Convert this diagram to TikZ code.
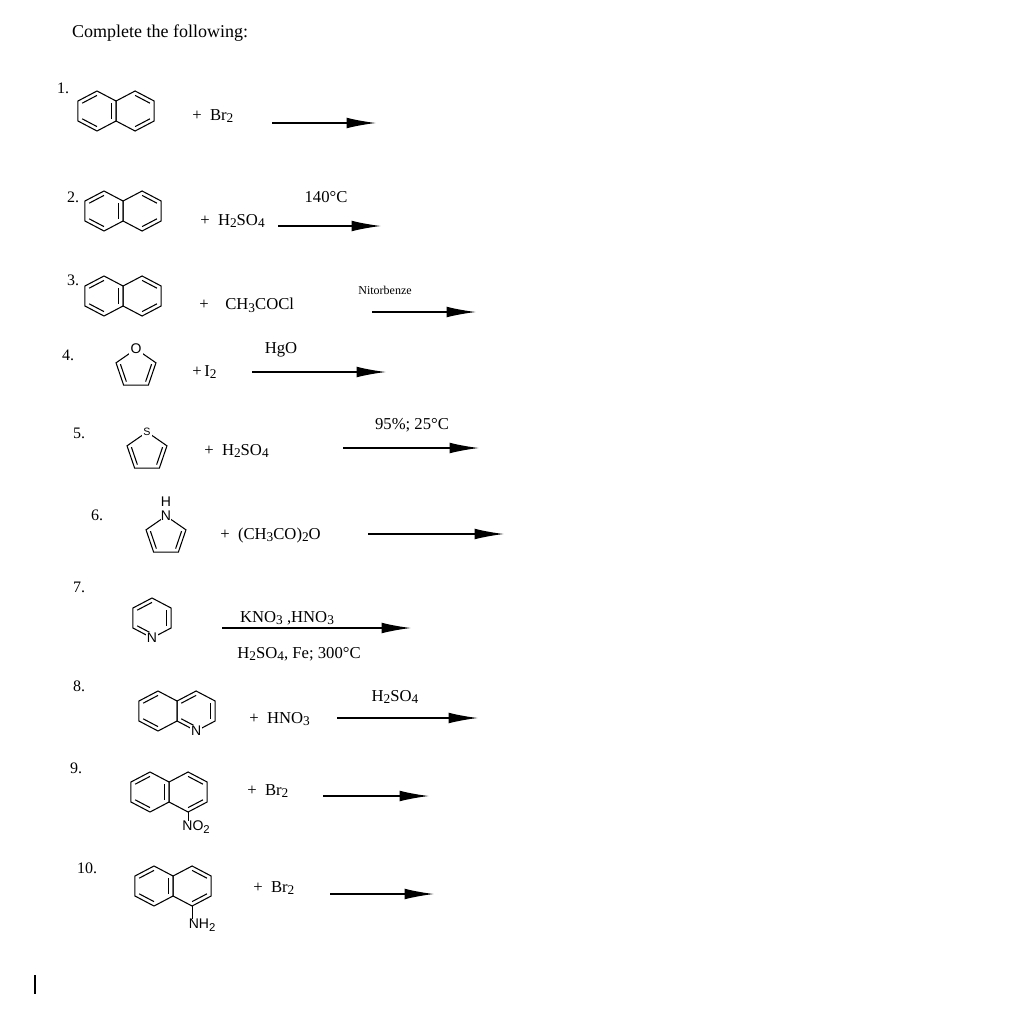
\documentclass[tikz,border=0pt]{standalone}
\usepackage{fontspec}
\setmainfont{Liberation Serif}
\newfontfamily\atomfont{Liberation Sans}
\usetikzlibrary{calc,arrows.meta}
\tikzset{
  rx/.style={-{Latex[length=22pt,width=8pt]},line width=1pt},
  bond/.style={line width=0.8pt},
  txt/.style={inner sep=0pt,font=\fontsize{12.5}{14}\selectfont},
  small/.style={inner sep=0pt,font=\fontsize{9}{10}\selectfont},
  atom/.style={fill=white,inner sep=0.8pt,font=\atomfont\fontsize{10.5}{11}\selectfont},
  num/.style={inner sep=0pt,font=\fontsize{12}{14}\selectfont}
}
\newcommand\sbs[1]{\raisebox{-0.35ex}{\fontsize{10}{10}\selectfont #1}}
\newcommand\asb[1]{\raisebox{-0.35ex}{\fontsize{8.5}{9}\selectfont #1}}
\newcommand\hexat[3]{%
  \foreach \a in {30,90,150,210,270,330} {\coordinate (#1\a) at ($(#2,#3)+({22*cos(\a)},{20*sin(\a)})$);}
  \coordinate (#1c) at (#2,#3);
  \draw[bond] (#130)--(#190)--(#1150)--(#1210)--(#1270)--(#1330)--cycle;}
\newcommand\pentat[3]{%
  \foreach \a in {270,342,54,126,198} {\coordinate (#1\a) at ($(#2,#3)+({21*cos(\a)},{20*sin(\a)})$);}
  \coordinate (#1c) at (#2,#3);
  \draw[bond] (#1270)--(#1342)--(#154)--(#1126)--(#1198)--cycle;}
\newcommand\db[3]{\draw[bond] ($(#1)!0.22!(#3)$) -- ($(#2)!0.22!(#3)$);}
\newcommand\naph[3]{%
  \hexat{#1L}{#2}{#3}\hexat{#1R}{#2+38.1}{#3}%
  \db{#1L270}{#1L210}{#1Lc}\db{#1L150}{#1L90}{#1Lc}\db{#1L330}{#1L30}{#1Lc}%
  \db{#1R270}{#1R330}{#1Rc}\db{#1R30}{#1R90}{#1Rc}}
\begin{document}
\begin{tikzpicture}[x=0.75pt,y=-0.75pt]
\useasboundingbox (0,0) rectangle (1011,1024);
\node[inner sep=0pt,font=\fontsize{13.5}{15}\selectfont] (title) at (160,33) {Complete the following:};
% 1
\node[num] (n1) at (63,88) {1.};
\naph{a}{97}{111}
\node[txt,anchor=west] (p1) at (192,116) {+\enspace Br\sbs{2}};
\coordinate (a1s) at (272,123); \coordinate (a1e) at (376,123);
\draw[rx] (a1s) -- (a1e);
% 2
\node[num] (n2) at (73,197) {2.};
\naph{b}{104}{211}
\node[txt,anchor=west] (p2) at (200,221) {+\enspace H\sbs{2}SO\sbs{4}};
\node[txt] (c2) at (326,197) {140\textdegree C};
\coordinate (a2s) at (278,226); \coordinate (a2e) at (381,226);
\draw[rx] (a2s) -- (a2e);
% 3
\node[num] (n3) at (73,280) {3.};
\naph{c}{104}{296}
\node[txt,anchor=west] (p3) at (199,305) {+\quad CH\sbs{3}COCl};
\node[small] (c3) at (385,290) {Nitorbenze};
\coordinate (a3s) at (372,312); \coordinate (a3e) at (476,312);
\draw[rx] (a3s) -- (a3e);
% 4 furan
\node[num] (n4) at (68,355) {4.};
\pentat{f}{136}{369}
\db{f198}{f126}{fc}\db{f342}{f54}{fc}
\node[atom] (fO) at (f270) {O};
\node[txt,anchor=west] (p4) at (192,372) {+\,I\sbs{2}};
\node[txt] (c4) at (281,350) {HgO};
\coordinate (a4s) at (252,372); \coordinate (a4e) at (386,372);
\draw[rx] (a4s) -- (a4e);
% 5 thiophene
\node[num] (n5) at (79,433) {5.};
\pentat{t}{147}{452}
\db{t198}{t126}{tc}\db{t342}{t54}{tc}
\node[atom,font=\atomfont\fontsize{8}{9}\selectfont] (tS) at (t270) {S};
\node[txt,anchor=west] (p5) at (204,451) {+\enspace H\sbs{2}SO\sbs{4}};
\node[txt] (c5) at (412,425) {95\%; 25\textdegree C};
\coordinate (a5s) at (343,448); \coordinate (a5e) at (479,448);
\draw[rx] (a5s) -- (a5e);
% 6 pyrrole
\node[num] (n6) at (97,515) {6.};
\pentat{y}{166}{536}
\db{y198}{y126}{yc}\db{y342}{y54}{yc}
\node[atom,inner sep=0pt] (yN) at (y270) {N};
\node[atom,inner sep=0pt,fill=none] (yH) at ($(y270)+(0,-14)$) {H};
\node[txt,anchor=west] (p6) at (220,535) {+\enspace (CH\sbs{3}CO)\sbs{2}O};
\coordinate (a6s) at (368,534); \coordinate (a6e) at (504,534);
\draw[rx] (a6s) -- (a6e);
% 7 pyridine
\node[num] (n7) at (79,587) {7.};
\hexat{p}{152}{618}
\db{p270}{p210}{pc}\db{p330}{p30}{pc}\db{p150}{p90}{pc}
\node[atom] (pN) at (p90) {N};
\node[txt] (c7a) at (287,618) {KNO\sbs{3} ,HNO\sbs{3}};
\node[txt] (c7b) at (299,654) {H\sbs{2}SO\sbs{4}, Fe; 300\textdegree C};
\coordinate (a7s) at (222,628); \coordinate (a7e) at (411,628);
\draw[rx] (a7s) -- (a7e);
% 8 quinoline
\node[num] (n8) at (79,686) {8.};
\hexat{qL}{158}{711}\hexat{qR}{196.1}{711}
\db{qL270}{qL210}{qLc}\db{qL150}{qL90}{qLc}
\db{qR210}{qR270}{qRc}\db{qR330}{qR30}{qRc}\db{qR150}{qR90}{qRc}
\node[atom] (qN) at (qR90) {N};
\node[txt,anchor=west] (p8) at (249,719) {+\enspace HNO\sbs{3}};
\node[txt] (c8) at (395,697) {H\sbs{2}SO\sbs{4}};
\coordinate (a8s) at (337,718); \coordinate (a8e) at (478,718);
\draw[rx] (a8s) -- (a8e);
% 9 1-nitronaphthalene
\node[num] (n9) at (76,768) {9.};
\naph{n}{150}{792}
\node[atom,inner sep=0pt] (nNO) at ($(nR90)+(8,15)$) {NO\asb{2}};
\draw[bond] (nR90) -- (nNO.north -| nR90);
\node[txt,anchor=west] (p9) at (247,791) {+\enspace Br\sbs{2}};
\coordinate (a9s) at (323,796); \coordinate (a9e) at (429,796);
\draw[rx] (a9s) -- (a9e);
% 10 1-naphthylamine
\node[num] (n10) at (87,868) {10.};
\naph{m}{154}{886}
\node[atom,inner sep=0pt] (mNH) at ($(mR90)+(10,19)$) {NH\asb{2}};
\draw[bond] (mR90) -- (mNH.north -| mR90);
\node[txt,anchor=west] (p10) at (253,888) {+\enspace Br\sbs{2}};
\coordinate (a10s) at (330,894); \coordinate (a10e) at (434,894);
\draw[rx] (a10s) -- (a10e);
% cursor
\coordinate (cur1) at (35,975); \coordinate (cur2) at (35,994);
\draw[line width=1pt] (cur1) -- (cur2);
\end{tikzpicture}
\end{document}
